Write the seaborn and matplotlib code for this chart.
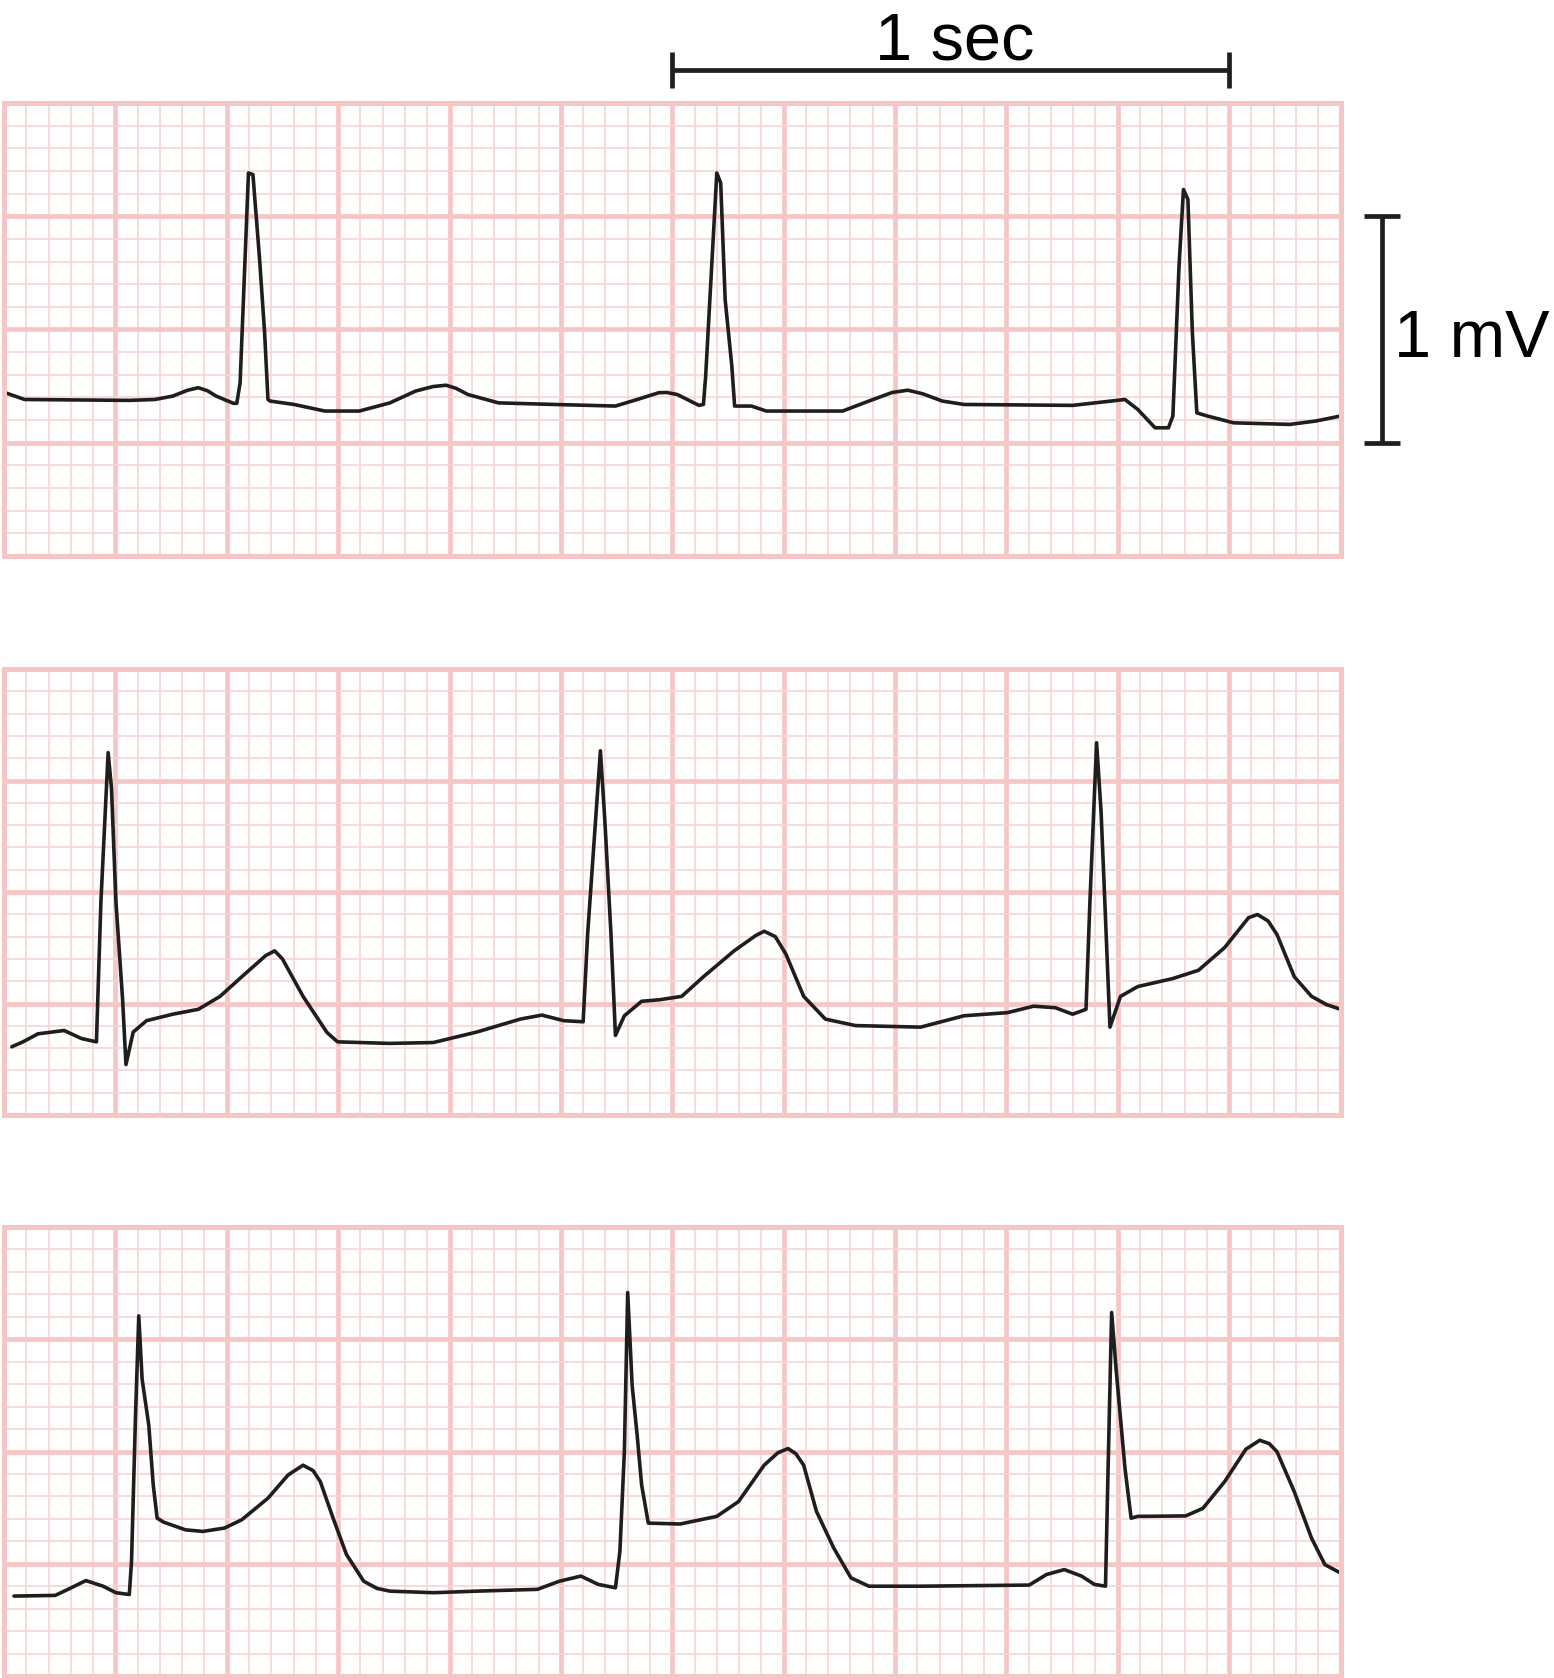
import numpy as np
import pandas as pd
import matplotlib
matplotlib.use("Agg")
import matplotlib.pyplot as plt
from matplotlib.ticker import MultipleLocator
import seaborn as sns

# ---------------- data (time in s, amplitude in mV) ----------------
t1 = [0.002, 0.037, 0.225, 0.271, 0.303, 0.330, 0.349, 0.365, 0.381, 0.412, 0.418, 0.424, 0.439, 0.447,
      0.459, 0.468, 0.474, 0.478, 0.521, 0.576, 0.638, 0.693, 0.739, 0.770, 0.794, 0.812, 0.833, 0.888,
      0.989, 1.098, 1.137, 1.176, 1.190, 1.209, 1.248, 1.256, 1.260, 1.280, 1.287, 1.295,
      1.307, 1.312, 1.342, 1.369, 1.506, 1.553, 1.595, 1.623, 1.650, 1.685, 1.724, 1.919, 2.013, 2.036,
      2.067, 2.091, 2.099, 2.110, 2.118, 2.126, 2.134, 2.142, 2.161, 2.208, 2.309, 2.356, 2.400]
v1 = [0.721, 0.691, 0.687, 0.691, 0.706, 0.732, 0.743, 0.730, 0.706, 0.674, 0.674, 0.765, 1.691, 1.684,
      1.309, 0.985, 0.691, 0.684, 0.669, 0.640, 0.640, 0.676, 0.728, 0.748, 0.754, 0.740, 0.713, 0.676,
      0.669, 0.662, 0.691, 0.721, 0.722, 0.713, 0.665, 0.669, 0.794, 1.691, 1.647, 1.132,
      0.838, 0.662, 0.662, 0.640, 0.640, 0.684, 0.722, 0.732, 0.716, 0.684, 0.669, 0.665, 0.691, 0.647,
      0.566, 0.566, 0.618, 1.279, 1.618, 1.574, 0.985, 0.632, 0.618, 0.588, 0.581, 0.596, 0.618]

t2 = [0.014, 0.034, 0.061, 0.108, 0.139, 0.166, 0.174, 0.187, 0.193, 0.201, 0.213, 0.219,
      0.232, 0.256, 0.303, 0.349, 0.388, 0.427, 0.470, 0.486, 0.500, 0.537, 0.580, 0.599, 0.693, 0.771, 0.849,
      0.927, 0.966, 1.005, 1.040, 1.048, 1.071, 1.079, 1.090, 1.098, 1.114, 1.145, 1.178,
      1.217, 1.256, 1.311, 1.350, 1.365, 1.385, 1.404, 1.436, 1.475, 1.529, 1.646, 1.724, 1.802, 1.849,
      1.888, 1.919, 1.943, 1.950, 1.962, 1.970, 1.978, 1.986, 2.005, 2.036, 2.099, 2.145,
      2.192, 2.235, 2.251, 2.270, 2.286, 2.317, 2.348, 2.375, 2.400]
v2 = [0.306, 0.328, 0.364, 0.379, 0.343, 0.328, 0.955, 1.625, 1.465, 0.955, 0.517, 0.226,
      0.372, 0.423, 0.452, 0.474, 0.532, 0.620, 0.715, 0.736, 0.700, 0.532, 0.370, 0.328, 0.321, 0.325, 0.372,
      0.430, 0.448, 0.423, 0.418, 0.809, 1.633, 1.319, 0.809, 0.357, 0.445, 0.510, 0.517,
      0.532, 0.620, 0.736, 0.805, 0.824, 0.800, 0.722, 0.532, 0.430, 0.401, 0.394, 0.445, 0.459, 0.488,
      0.481, 0.452, 0.474, 0.955, 1.669, 1.363, 0.882, 0.394, 0.532, 0.576, 0.612, 0.649,
      0.751, 0.885, 0.899, 0.870, 0.809, 0.620, 0.532, 0.495, 0.474]

t3 = [0.018, 0.092, 0.115, 0.147, 0.178, 0.201, 0.225, 0.229, 0.236, 0.242, 0.248, 0.260,
      0.268, 0.275, 0.287, 0.326, 0.357, 0.396, 0.427, 0.474, 0.510, 0.537, 0.555, 0.568, 0.591, 0.615,
      0.646, 0.670, 0.693, 0.771, 0.849, 0.958, 0.997, 1.036, 1.067, 1.098, 1.106, 1.114, 1.120,
      1.128, 1.137, 1.145, 1.157, 1.214, 1.280, 1.319, 1.365, 1.390, 1.408, 1.422, 1.436, 1.459, 1.490,
      1.521, 1.553, 1.646, 1.841, 1.872, 1.904, 1.935, 1.958, 1.978, 1.982, 1.989, 1.997,
      2.005, 2.013, 2.024, 2.036, 2.122, 2.153, 2.192, 2.230, 2.255, 2.272, 2.286, 2.317, 2.348, 2.372, 2.400]
v3 = [0.356, 0.359, 0.386, 0.425, 0.400, 0.371, 0.363, 0.511, 1.146, 1.604, 1.323, 1.117,
      0.851, 0.703, 0.685, 0.651, 0.644, 0.659, 0.696, 0.792, 0.895, 0.939, 0.915, 0.866, 0.703, 0.541,
      0.422, 0.390, 0.378, 0.371, 0.378, 0.386, 0.422, 0.445, 0.408, 0.393, 0.555, 0.999, 1.708,
      1.294, 1.072, 0.851, 0.681, 0.677, 0.711, 0.777, 0.939, 0.995, 1.013, 0.990, 0.939, 0.733, 0.570,
      0.437, 0.400, 0.400, 0.405, 0.452, 0.474, 0.445, 0.408, 0.400, 0.851, 1.619, 1.368,
      1.146, 0.925, 0.703, 0.711, 0.713, 0.747, 0.866, 1.010, 1.050, 1.035, 0.999, 0.821, 0.614, 0.496, 0.459]

strips = [(t1, v1), (t2, v2), (t3, v3)]

time_bar = [1.2, 2.2]      # 1 s calibration
volt_bar = [0.5, 1.5]      # 1 mV calibration

# ---------------- styling ----------------
W, H, DPI = 1554, 1678, 100
MAJOR_C = "#f6c6c6"
MINOR_C = "#f6d6d6"
INK = "#1e1e1e"

sns.set_theme(style="white")
plt.rcParams["font.family"] = ["Liberation Sans", "DejaVu Sans"]

fig = plt.figure(figsize=(W / DPI, H / DPI), dpi=DPI)

left_px, right_px = 4.0, 1340.5
panels_px = [(103, 556), (669, 1115), (1227, 1676)]

axes = []
for (top, bot), (tt, vv) in zip(panels_px, strips):
    ax = fig.add_axes([left_px / W, 1 - bot / H, (right_px - left_px) / W, (bot - top) / H])
    ax.set_xlim(0, 2.4)
    ax.set_ylim(0, 2.0)
    ax.xaxis.set_major_locator(MultipleLocator(0.2))
    ax.xaxis.set_minor_locator(MultipleLocator(0.04))
    ax.yaxis.set_major_locator(MultipleLocator(0.5))
    ax.yaxis.set_minor_locator(MultipleLocator(0.1))
    ax.grid(which="minor", color=MINOR_C, linewidth=1.2)
    ax.grid(which="major", color=MAJOR_C, linewidth=3.4)
    ax.set_axisbelow(True)
    ax.tick_params(which="both", length=0, labelbottom=False, labelleft=False)
    for sp in ax.spines.values():
        sp.set_visible(True)
        sp.set_color(MAJOR_C)
        sp.set_linewidth(3.6)
    df = pd.DataFrame({"t": tt, "mV": vv})
    sns.lineplot(data=df, x="t", y="mV", sort=False, estimator=None, ax=ax,
                 color=INK, linewidth=2.6)
    ax.set_xlabel("")
    ax.set_ylabel("")
    axes.append(ax)

ax1 = axes[0]
# 1 sec bar (above strip 1)
bar_y = 2.146
ax1.plot(time_bar, [bar_y, bar_y], color=INK, lw=3.4, clip_on=False, solid_capstyle="butt")
for xb in time_bar:
    ax1.plot([xb, xb], [2.066, 2.225], color=INK, lw=3.4, clip_on=False, solid_capstyle="butt")
ax1.text(1.708, 2.19, "1 sec", ha="center", va="baseline", fontsize=48, color="black",
         clip_on=False)

# 1 mV bar (right of strip 1)
vx = 2.474
ax1.plot([vx, vx], volt_bar, color=INK, lw=3.4, clip_on=False, solid_capstyle="butt")
for yb in volt_bar:
    ax1.plot([2.442, 2.507], [yb, yb], color=INK, lw=3.4, clip_on=False, solid_capstyle="butt")
ax1.text(2.496, 0.879, "1 mV", ha="left", va="baseline", fontsize=48, color="black",
         clip_on=False)

fig.savefig("out.png", dpi=DPI, facecolor="white")
